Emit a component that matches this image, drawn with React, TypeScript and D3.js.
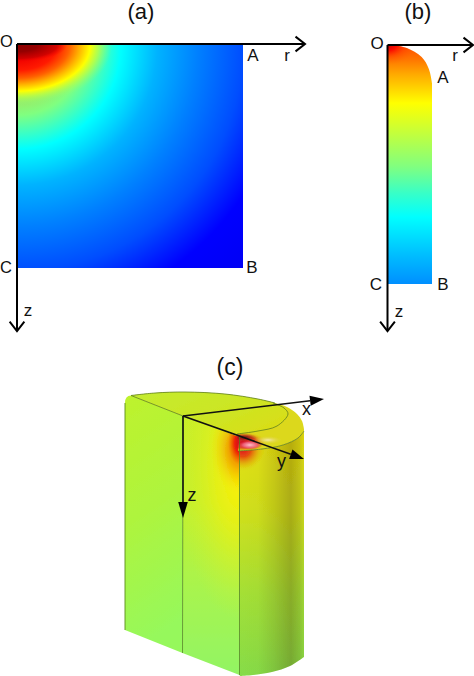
import React from "react";
import * as d3 from "d3";

const W = 474, H = 676;
const FONT = "'Liberation Sans', Arial, sans-serif";

// jet colour map
const jetValues = [0, 0.125, 0.375, 0.625, 0.875, 1];
const jetColors = ["#00008f", "#0000ff", "#00ffff", "#ffff00", "#ff0000", "#800000"];
const jet = d3.scaleLinear<string>().domain(jetValues).range(jetColors).interpolate(d3.interpolateRgb).clamp(true);

// Panel (a): field sampled by distance from O (px-normalised by panel width)
const aDist = [0, 0.31, 0.46, 0.62, 0.8, 1.0, 1.2, 1.45];
const aVal = [0.72, 0.5, 0.375, 0.3, 0.25, 0.2, 0.125, 0.11];
const aHotDist = [0, 0.3, 0.55, 0.72, 0.86, 1.0, 1.12, 1.3];
const aHotVal = [0.9, 0.89, 0.85, 0.78, 0.7, 0.625, 0.56, 0.5];
const aHotOp = [1, 1, 1, 1, 1, 1, 0.8, 0];
const aCoreDist = [0, 0.4, 0.8, 1];
const aCoreVal = [0.99, 0.98, 0.93, 0.88];
const aCoreOp = [1, 1, 0.8, 0];

// Panel (b): value down the depth
const bDepth = [0, 0.06, 0.12, 0.243, 0.32, 0.51, 0.62, 0.72, 0.88, 1];
const bVal = [0.8, 0.76, 0.71, 0.625, 0.59, 0.5, 0.43, 0.375, 0.31, 0.265];
const bHotDist = [0, 0.3, 0.6, 1];
const bHotVal = [0.93, 0.88, 0.82, 0.77];
const bHotOp = [1, 0.85, 0.45, 0];

// Panel (b) outline
const bEdge: [number, number][] = [[0, 0], [0.2, 0.002], [0.44, 0.013], [0.77, 0.05], [0.93, 0.1], [1, 0.16]];

// Panel (c) geometry
const cTopArc: [number, number][] = [[131, 395.5], [155, 393], [185, 392], [225, 394], [258, 399], [275, 403], [287, 407], [297, 414], [302, 421], [304, 429]];
const cInnerArc: [number, number][] = [[237, 434], [258, 431], [277, 426], [288, 414], [284, 408], [273, 403]];
const cRimArc: [number, number][] = [[238, 451], [262, 449], [283, 445], [298, 438], [304, 431]];
const cBottomArc: [number, number][] = [[304, 657], [290, 666], [272, 672], [253, 675], [240, 676]];
const cOrigin: [number, number] = [183, 416];
const cCorner: [number, number] = [239.5, 437];
const cLeftTop: [number, number] = [125, 403];
const cLeftBottom: [number, number] = [125, 630];
const cMidBottom: [number, number] = [182.5, 653];
const cFrontBottom: [number, number] = [239.5, 675];

const leftStops = ["#bef22c", "#aef43e", "#96f85c"];
const frontStops = ["#c8ee28", "#c4f02c", "#a8f44e", "#92f464"];
const curveStops = ["#e6e010", "#d0e01c", "#a4e036", "#86dc48"];
const shadeOffsets = [0, 0.3, 0.55, 0.8, 0.93, 1];
const shadeOps = [0, 0.02, 0.13, 0.27, 0.16, 0.05];

const ax = d3.scaleLinear().domain([0, 1]).range([17, 243]);
const az = d3.scaleLinear().domain([0, 1]).range([45, 268]);
const bx = d3.scaleLinear().domain([0, 1]).range([387, 432]);
const bz = d3.scaleLinear().domain([0, 1]).range([45, 284]);

const smooth = d3.line<[number, number]>().x(d => d[0]).y(d => d[1]).curve(d3.curveCatmullRom);
const straight = d3.line<[number, number]>().x(d => d[0]).y(d => d[1]);
const body = (pts: [number, number][]) => (smooth(pts) as string).slice(1);

function Stops({ at, val, op }: { at: number[]; val: number[]; op?: number[] }) {
  const max = at[at.length - 1];
  return <>{at.map((d, i) => <stop key={i} offset={d / max} stopColor={jet(val[i])} stopOpacity={op ? op[i] : 1} />)}</>;
}
function Plain({ colors }: { colors: string[] }) {
  return <>{colors.map((c, i) => <stop key={i} offset={i / (colors.length - 1)} stopColor={c} />)}</>;
}
function Arrow({ x1, y1, x2, y2, w = 2 }: { x1: number; y1: number; x2: number; y2: number; w?: number }) {
  const a = Math.atan2(y2 - y1, x2 - x1), s = 12, t = 0.66;
  const p1: [number, number] = [x2 - s * Math.cos(a - t), y2 - s * Math.sin(a - t)];
  const p2: [number, number] = [x2 - s * Math.cos(a + t), y2 - s * Math.sin(a + t)];
  return <g fill="none" stroke="#000" strokeWidth={w}>
    <path d={straight([[x1, y1], [x2, y2]]) as string} />
    <path d={straight([p1, [x2, y2], p2]) as string} />
  </g>;
}
function Solid({ x1, y1, x2, y2, s = 14, hw = 5.5 }: { x1: number; y1: number; x2: number; y2: number; s?: number; hw?: number }) {
  const a = Math.atan2(y2 - y1, x2 - x1);
  const bxx = x2 - s * Math.cos(a), byy = y2 - s * Math.sin(a);
  const nx = -Math.sin(a) * hw, ny = Math.cos(a) * hw;
  return <g>
    <path d={straight([[x1, y1], [bxx, byy]]) as string} stroke="#111" strokeWidth={1.6} fill="none" />
    <path d={straight([[x2, y2], [bxx + nx, byy + ny], [bxx - nx, byy - ny]]) as string + "Z"} fill="#000" />
  </g>;
}
function T({ x, y, s = 17, c }: { x: number; y: number; s?: number; c: string }) {
  return <text x={x} y={y} fontSize={s} fontFamily={FONT} fill="#111" textAnchor="middle">{c}</text>;
}

export default function App() {
  const bPath = straight([[bx(0), bz(0)]]) + "L" + body(bEdge.map(d => [bx(d[0]), bz(d[1])] as [number, number])) +
    `L${bx(1)},${bz(1)}L${bx(0)},${bz(1)}Z`;
  const leftFace = `M${cLeftTop}Q${cLeftTop[0]},${cTopArc[0][1]} ${cTopArc[0]}L${cOrigin}L${cMidBottom}L${cLeftBottom}Z`;
  const frontFace = `M${cOrigin}L${cCorner}L${cFrontBottom}L${cMidBottom}Z`;
  const wholeTop = `M${cTopArc[0]}L${body(cTopArc)}L${body(cRimArc.slice().reverse())}L${cCorner}L${cOrigin}Z`;
  const curveFace = `M${cCorner}L${cRimArc[0]}L${body(cRimArc)}L${cBottomArc[0]}L${body(cBottomArc)}L${cFrontBottom}Z`;
  const rimBand = `M${body(cInnerArc.slice(0, 4))}L${cRimArc[cRimArc.length - 1]}L${body(cRimArc.slice().reverse())}Z`;

  return (
    <svg width={W} height={H} viewBox={`0 0 ${W} ${H}`} style={{ position: "absolute", left: 0, top: 0, background: "#fff" }}>
      <defs>
        <radialGradient id="aBase" gradientUnits="userSpaceOnUse" cx={ax(0)} cy={az(0)} r={328}><Stops at={aDist} val={aVal} /></radialGradient>
        <radialGradient id="aHot" gradientUnits="userSpaceOnUse" cx={0} cy={0} r={1} gradientTransform={`translate(${ax(0)},${az(0)}) scale(95,60)`}><Stops at={aHotDist} val={aHotVal} op={aHotOp} /></radialGradient>
        <radialGradient id="aCore" gradientUnits="userSpaceOnUse" cx={0} cy={0} r={1} gradientTransform={`translate(${ax(0)},${az(0)}) scale(50,17)`}><Stops at={aCoreDist} val={aCoreVal} op={aCoreOp} /></radialGradient>
        <linearGradient id="bBase" gradientUnits="userSpaceOnUse" x1={0} x2={0} y1={bz(0)} y2={bz(1)}><Stops at={bDepth} val={bVal} /></linearGradient>
        <radialGradient id="bHot" gradientUnits="userSpaceOnUse" cx={0} cy={0} r={1} gradientTransform={`translate(${bx(0)},${bz(0)}) scale(30,20)`}><Stops at={bHotDist} val={bHotVal} op={bHotOp} /></radialGradient>

        <linearGradient id="cLeft" x1="0" x2="0.15" y1="0" y2="1"><Plain colors={leftStops} /></linearGradient>
        <linearGradient id="cFront" x1="0" x2="0" y1="0" y2="1"><Plain colors={frontStops} /></linearGradient>
        <linearGradient id="cCurve" x1="0" x2="0" y1="0" y2="1"><Plain colors={curveStops} /></linearGradient>
        <linearGradient id="cShade" x1="0" x2="1" y1="0" y2="0">
          {shadeOffsets.map((o, i) => <stop key={i} offset={o} stopColor="#402000" stopOpacity={shadeOps[i]} />)}
        </linearGradient>
        <linearGradient id="cTop" x1="0" x2="1" y1="0" y2="0.6">
          <stop offset="0" stopColor="#c4ec30" /><stop offset="0.6" stopColor="#cce624" /><stop offset="1" stopColor="#d8de18" />
        </linearGradient>
        <radialGradient id="cYellow" gradientUnits="userSpaceOnUse" cx={0} cy={0} r={1} gradientTransform="translate(240,470) scale(62,150)">
          <stop offset="0" stopColor="#fff000" stopOpacity="1" /><stop offset="0.4" stopColor="#f0f010" stopOpacity="0.7" /><stop offset="1" stopColor="#d0f030" stopOpacity="0" />
        </radialGradient>
        <radialGradient id="cOrange" gradientUnits="userSpaceOnUse" cx={0} cy={0} r={1} gradientTransform="translate(240,448) scale(30,46)">
          <stop offset="0" stopColor="#f06000" stopOpacity="0.95" /><stop offset="0.4" stopColor="#f09000" stopOpacity="0.75" /><stop offset="1" stopColor="#f4e000" stopOpacity="0" />
        </radialGradient>
        <radialGradient id="cRedEdge" gradientUnits="userSpaceOnUse" cx={0} cy={0} r={1} gradientTransform="translate(240,443) scale(12,22)">
          <stop offset="0" stopColor="#c80818" /><stop offset="0.45" stopColor="#ee1808" stopOpacity="0.95" /><stop offset="1" stopColor="#f06000" stopOpacity="0" />
        </radialGradient>
        <radialGradient id="cHotR" gradientUnits="userSpaceOnUse" cx={0} cy={0} r={1} gradientTransform="translate(243,449) scale(22,22)">
          <stop offset="0" stopColor="#e01020" /><stop offset="0.35" stopColor="#e82810" stopOpacity="0.8" /><stop offset="1" stopColor="#e8c000" stopOpacity="0" />
        </radialGradient>
        <radialGradient id="cRimHot" gradientUnits="userSpaceOnUse" cx={0} cy={0} r={1} gradientTransform="translate(242,442) scale(24,10)">
          <stop offset="0" stopColor="#d01020" /><stop offset="0.6" stopColor="#e03020" stopOpacity="0.8" /><stop offset="1" stopColor="#e8c000" stopOpacity="0" />
        </radialGradient>
        <radialGradient id="cPink" gradientUnits="userSpaceOnUse" cx={0} cy={0} r={1} gradientTransform="translate(250,445) scale(12,4.5)">
          <stop offset="0" stopColor="#ffc4cc" /><stop offset="0.6" stopColor="#f06080" stopOpacity="0.85" /><stop offset="1" stopColor="#e02040" stopOpacity="0" />
        </radialGradient>
        <radialGradient id="cCream" gradientUnits="userSpaceOnUse" cx={0} cy={0} r={1} gradientTransform="translate(268,440) scale(14,4)">
          <stop offset="0" stopColor="#f4e8a8" /><stop offset="1" stopColor="#e0d040" stopOpacity="0" />
        </radialGradient>
        <radialGradient id="cDark" gradientUnits="userSpaceOnUse" cx={0} cy={0} r={1} gradientTransform="translate(244,437.5) scale(13,4)">
          <stop offset="0" stopColor="#601018" /><stop offset="1" stopColor="#b02020" stopOpacity="0" />
        </radialGradient>
        <clipPath id="cpFront"><path d={frontFace} /></clipPath>
        <clipPath id="cpCurve"><path d={curveFace} /></clipPath>
        <clipPath id="cpRim"><path d={rimBand} /></clipPath>
        <clipPath id="cpA"><rect x={ax(0)} y={az(0)} width={ax(1) - ax(0)} height={az(1) - az(0)} /></clipPath>
        <filter id="soft"><feGaussianBlur stdDeviation="0.35" /></filter>
      </defs>

      {/* panel a */}
      <g clipPath="url(#cpA)">
        <rect x={ax(0)} y={az(0)} width={ax(1) - ax(0)} height={az(1) - az(0)} fill="url(#aBase)" />
        <rect x={ax(0)} y={az(0)} width={ax(1) - ax(0)} height={az(1) - az(0)} fill="url(#aHot)" />
        <rect x={ax(0)} y={az(0)} width={ax(1) - ax(0)} height={az(1) - az(0)} fill="url(#aCore)" />
      </g>
      <Arrow x1={ax(0)} y1={az(0) - 1} x2={305} y2={az(0) - 1} />
      <Arrow x1={ax(0)} y1={az(0) - 1} x2={ax(0)} y2={331} />
      <T x={141} y={19} s={22} c="(a)" />
      <T x={6.5} y={47} s={16.5} c="O" />
      <T x={253} y={61} c="A" />
      <T x={287} y={61} c="r" />
      <T x={6} y={272.5} s={16.5} c="C" />
      <T x={252} y={272.5} c="B" />
      <T x={28} y={315.5} c="z" />

      {/* panel b */}
      <path d={bPath} fill="url(#bBase)" />
      <path d={bPath} fill="url(#bHot)" />
      <Arrow x1={bx(0) + 0.5} y1={az(0)} x2={473} y2={az(0)} />
      <Arrow x1={bx(0) + 0.5} y1={az(0)} x2={bx(0) + 0.5} y2={331} />
      <T x={418} y={19} s={22} c="(b)" />
      <T x={377} y={49} c="O" />
      <T x={443} y={83} c="A" />
      <T x={455} y={61} c="r" />
      <T x={376} y={290} c="C" />
      <T x={443} y={290} c="B" />
      <T x={399} y={317} c="z" />

      {/* panel c */}
      <T x={230} y={375} s={23} c="(c)" />
      <g filter="url(#soft)">
        <path d={leftFace} fill="url(#cLeft)" />
        <path d={frontFace} fill="url(#cFront)" />
        <g clipPath="url(#cpFront)">
          <rect x={178} y={410} width={65} height={270} fill="url(#cYellow)" />
          <rect x={178} y={410} width={65} height={100} fill="url(#cOrange)" />
          <rect x={220} y={425} width={25} height={50} fill="url(#cRedEdge)" />
        </g>
        <path d={curveFace} fill="url(#cCurve)" />
        <path d={curveFace} fill="url(#cShade)" />
        <g clipPath="url(#cpCurve)">
          <rect x={235} y={430} width={50} height={60} fill="url(#cHotR)" />
        </g>
        <path d={wholeTop} fill="#dcd81c" />
        <path d={`M${cTopArc[0]}L${cOrigin}L${cCorner}L${body(cInnerArc)}L${body(cTopArc.slice(0, 6).reverse())}Z`} fill="url(#cTop)" />
        <g clipPath="url(#cpRim)">
          <rect x={232} y={428} width={50} height={25} fill="url(#cRimHot)" />
          <rect x={250} y={432} width={35} height={20} fill="url(#cCream)" />
          <rect x={235} y={436} width={30} height={16} fill="url(#cPink)" />
          <rect x={232} y={430} width={30} height={14} fill="url(#cDark)" />
        </g>
        <g fill="none" stroke="#5a7a20" strokeWidth={0.9} strokeOpacity={0.85}>
          <path d={smooth(cInnerArc) as string} />
          <path d={smooth(cRimArc) as string} />
          <path d={smooth(cTopArc.slice(0, 6)) as string} />
          <path d={straight([cTopArc[0], cOrigin]) as string} />
          <path d={straight([cCorner, cFrontBottom]) as string} stroke="#4f7f1e" />
          <path d={straight([cOrigin, cMidBottom]) as string} stroke="#4f7f1e" />
          <path d={straight([cLeftTop, cLeftBottom]) as string} stroke="#5f8f20" strokeWidth={1.1} />
        </g>
      </g>
      <Solid x1={cOrigin[0]} y1={cOrigin[1]} x2={324} y2={399} s={14} hw={5} />
      <Solid x1={cOrigin[0]} y1={cOrigin[1]} x2={304} y2={459} s={14} hw={5} />
      <Solid x1={cOrigin[0]} y1={cOrigin[1]} x2={183} y2={518} s={16} hw={4.8} />
      <T x={306.5} y={415} s={18} c="x" />
      <T x={281.5} y={467} s={18} c="y" />
      <T x={192} y={501} s={18} c="z" />
    </svg>
  );
}
